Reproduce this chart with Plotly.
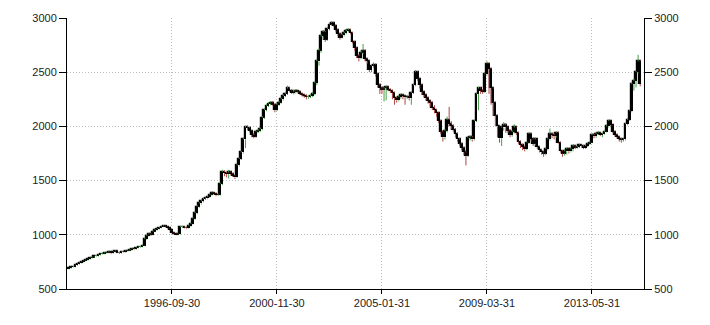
import pandas as pd
import plotly.graph_objects as go

# Monthly OHLC values, one row per calendar year (1992-08 .. 2015-04)
open_ = [
    685, 690, 700, 705, 720,
    730, 740, 750, 760, 765, 775, 785, 790, 800, 805, 815, 820,
    825, 830, 835, 840, 830, 845, 850, 835, 830, 845, 840, 850,
    855, 860, 870, 865, 880, 885, 890, 900, 960, 990, 1005, 1000,
    1030, 1045, 1055, 1065, 1075, 1080, 1075, 1060, 1040, 1020, 1010, 1000,
    1005, 1070, 1075, 1065, 1060, 1080, 1100, 1150, 1200, 1260, 1290, 1310,
    1330, 1335, 1350, 1370, 1390, 1380, 1365, 1370, 1470, 1580, 1570, 1560,
    1575, 1560, 1545, 1530, 1640, 1700, 1760, 1880, 1990, 1985, 1960, 1920,
    1905, 1950, 1960, 1975, 2080, 2150, 2190, 2210, 2220, 2200, 2150, 2200,
    2220, 2250, 2280, 2300, 2350, 2330, 2310, 2320, 2330, 2320, 2300, 2290,
    2280, 2270, 2275, 2280, 2300, 2400, 2600, 2700, 2830, 2870, 2800, 2900,
    2940, 2955, 2930, 2890, 2850, 2820, 2840, 2860, 2880, 2890, 2860, 2780,
    2720, 2650, 2630, 2680, 2700, 2620, 2600, 2520, 2560, 2570, 2480, 2380,
    2350, 2340, 2350, 2360, 2340, 2330, 2310, 2260, 2240, 2270, 2290, 2280,
    2270, 2275, 2260, 2310, 2380, 2500, 2440, 2380, 2320, 2290, 2260, 2230,
    2220, 2170, 2150, 2120, 2050, 1950, 1900, 1960, 2060, 2020, 2000, 1970,
    1930, 1880, 1840, 1800, 1760, 1730, 1890, 1900, 1880, 2050, 2300, 2350,
    2330, 2320, 2480, 2580, 2530, 2350, 2220, 2100, 2000, 1890, 1990, 2010,
    1990, 1960, 1920, 1950, 1990, 1940, 1860, 1830, 1810, 1790, 1850, 1930,
    1880, 1840, 1880, 1810, 1780, 1760, 1750, 1790, 1880, 1930, 1920, 1910,
    1940, 1850, 1770, 1750, 1770, 1790, 1770, 1790, 1815, 1805, 1810, 1825,
    1815, 1800, 1820, 1840, 1850, 1920, 1910, 1930, 1940, 1920, 1930, 1950,
    2000, 2050, 2010, 1950, 1920, 1900, 1880, 1875, 1880, 2020, 2060, 2140,
    2390, 2420, 2500, 2600,
]

high_ = [
    695, 705, 712, 725, 735,
    745, 755, 765, 772, 780, 790, 797, 805, 812, 820, 826, 832,
    838, 842, 848, 845, 852, 858, 855, 842, 852, 850, 858, 862,
    866, 876, 875, 886, 892, 896, 910, 970, 1000, 1015, 1012, 1040,
    1052, 1062, 1072, 1082, 1088, 1086, 1080, 1065, 1045, 1026, 1015, 1012,
    1080, 1085, 1080, 1072, 1088, 1110, 1160, 1212, 1272, 1300, 1320, 1342,
    1345, 1360, 1378, 1398, 1395, 1388, 1380, 1480, 1600, 1595, 1580, 1600,
    1585, 1570, 1550, 1650, 1712, 1775, 1895, 2005, 2010, 1995, 1965, 1935,
    1962, 1975, 1990, 2095, 2165, 2205, 2225, 2235, 2235, 2210, 2212, 2235,
    2265, 2295, 2320, 2375, 2365, 2345, 2340, 2345, 2338, 2330, 2310, 2300,
    2295, 2290, 2295, 2315, 2415, 2615, 2720, 2850, 2890, 2880, 2920, 2960,
    2970, 2965, 2940, 2900, 2862, 2855, 2875, 2895, 2905, 2900, 2870, 2790,
    2730, 2665, 2700, 2760, 2710, 2630, 2610, 2570, 2590, 2580, 2490, 2395,
    2365, 2362, 2372, 2370, 2350, 2340, 2320, 2270, 2285, 2300, 2298, 2290,
    2290, 2285, 2320, 2395, 2520, 2510, 2450, 2390, 2330, 2300, 2270, 2240,
    2230, 2195, 2160, 2130, 2060, 1965, 1975, 2090, 2180, 2050, 2015, 1985,
    1945, 1895, 1850, 1810, 1770, 1900, 1915, 1910, 2060, 2310, 2365, 2360,
    2345, 2490, 2600, 2590, 2540, 2360, 2230, 2110, 2010, 2000, 2040, 2030,
    2000, 1975, 1965, 2020, 2000, 1950, 1870, 1840, 1820, 1860, 1945, 1940,
    1890, 1895, 1885, 1820, 1790, 1770, 1800, 1890, 1980, 1945, 1935, 1950,
    1950, 1860, 1780, 1785, 1805, 1795, 1800, 1830, 1825, 1822, 1835, 1832,
    1830, 1830, 1850, 1860, 1930, 1935, 1945, 1955, 1945, 1940, 1960, 2010,
    2060, 2055, 2015, 1960, 1930, 1910, 1895, 1890, 2030, 2075, 2150, 2400,
    2440, 2510, 2660, 2610,
]

low_ = [
    680, 685, 695, 700, 715,
    725, 735, 745, 755, 760, 770, 780, 785, 795, 800, 810, 815,
    820, 825, 830, 822, 825, 840, 830, 822, 825, 835, 835, 845,
    850, 855, 858, 860, 875, 880, 885, 895, 955, 985, 990, 995,
    1025, 1040, 1050, 1060, 1070, 1070, 1055, 1035, 1015, 1005, 995, 995,
    1000, 1062, 1060, 1052, 1055, 1075, 1095, 1140, 1190, 1250, 1280, 1300,
    1322, 1328, 1342, 1362, 1372, 1355, 1358, 1362, 1460, 1540, 1530, 1520,
    1550, 1535, 1515, 1525, 1630, 1690, 1750, 1800, 1965, 1945, 1900, 1890,
    1895, 1938, 1948, 1965, 2070, 2140, 2180, 2195, 2190, 2130, 2140, 2190,
    2210, 2240, 2270, 2290, 2320, 2300, 2295, 2305, 2310, 2290, 2275, 2265,
    2250, 2255, 2262, 2270, 2290, 2380, 2560, 2680, 2800, 2780, 2790, 2885,
    2930, 2920, 2875, 2835, 2800, 2810, 2830, 2850, 2870, 2850, 2765, 2700,
    2630, 2600, 2620, 2670, 2600, 2580, 2500, 2500, 2540, 2460, 2360, 2300,
    2300, 2230, 2240, 2325, 2310, 2250, 2200, 2220, 2230, 2255, 2250, 2200,
    2255, 2240, 2200, 2300, 2370, 2420, 2350, 2290, 2270, 2240, 2210, 2180,
    2150, 2120, 2090, 2030, 1930, 1860, 1880, 1945, 2000, 1975, 1950, 1900,
    1860, 1820, 1780, 1740, 1640, 1720, 1870, 1860, 1870, 2040, 2150, 2300,
    2300, 2310, 2470, 2300, 2200, 2100, 2000, 1900, 1850, 1820, 1960, 1940,
    1940, 1900, 1905, 1935, 1920, 1840, 1800, 1780, 1770, 1780, 1840, 1860,
    1820, 1825, 1790, 1760, 1740, 1720, 1735, 1780, 1870, 1890, 1880, 1895,
    1840, 1760, 1720, 1730, 1740, 1750, 1760, 1770, 1790, 1795, 1800, 1805,
    1790, 1792, 1810, 1830, 1845, 1890, 1895, 1920, 1910, 1900, 1925, 1945,
    1990, 2000, 1940, 1910, 1890, 1860, 1850, 1860, 1870, 2010, 2050, 2130,
    2330, 2360, 2490, 2370,
]

close_ = [
    690, 700, 705, 720, 730,
    740, 750, 760, 765, 775, 785, 790, 800, 805, 815, 820, 825,
    830, 835, 840, 830, 845, 850, 835, 830, 845, 840, 850, 855,
    860, 870, 865, 880, 885, 890, 900, 960, 990, 1005, 1000, 1030,
    1045, 1055, 1065, 1075, 1080, 1075, 1060, 1040, 1020, 1010, 1000, 1005,
    1070, 1075, 1065, 1060, 1080, 1100, 1150, 1200, 1260, 1290, 1310, 1330,
    1335, 1350, 1370, 1390, 1380, 1365, 1370, 1470, 1580, 1570, 1560, 1575,
    1560, 1545, 1530, 1640, 1700, 1760, 1880, 1990, 1985, 1960, 1920, 1905,
    1950, 1960, 1975, 2080, 2150, 2190, 2210, 2220, 2200, 2150, 2200, 2220,
    2250, 2280, 2300, 2350, 2330, 2310, 2320, 2330, 2320, 2300, 2290, 2280,
    2270, 2275, 2280, 2300, 2400, 2600, 2700, 2830, 2870, 2800, 2900, 2940,
    2955, 2930, 2890, 2850, 2820, 2840, 2860, 2880, 2890, 2860, 2780, 2720,
    2650, 2630, 2680, 2700, 2620, 2600, 2520, 2560, 2570, 2480, 2380, 2350,
    2340, 2350, 2360, 2340, 2330, 2310, 2260, 2240, 2270, 2290, 2280, 2270,
    2275, 2260, 2310, 2380, 2500, 2440, 2380, 2320, 2290, 2260, 2230, 2220,
    2170, 2150, 2120, 2050, 1950, 1900, 1960, 2060, 2020, 2000, 1970, 1930,
    1880, 1840, 1800, 1760, 1730, 1890, 1900, 1880, 2050, 2300, 2350, 2330,
    2320, 2480, 2580, 2530, 2350, 2220, 2100, 2000, 1890, 1990, 2010, 1990,
    1960, 1920, 1950, 1990, 1940, 1860, 1830, 1810, 1790, 1850, 1930, 1880,
    1840, 1880, 1810, 1780, 1760, 1750, 1790, 1880, 1930, 1920, 1910, 1940,
    1850, 1770, 1750, 1770, 1790, 1770, 1790, 1815, 1805, 1810, 1825, 1815,
    1800, 1820, 1840, 1850, 1920, 1910, 1930, 1940, 1920, 1930, 1950, 2000,
    2050, 2010, 1950, 1920, 1900, 1880, 1875, 1880, 2020, 2060, 2140, 2390,
    2420, 2500, 2600, 2390,
]

first_month = "1992-08-01"
x_tick_labels = ["1996-09-30", "2000-11-30", "2005-01-31", "2009-03-31", "2013-05-31"]
y_tick_values = [500, 1000, 1500, 2000, 2500, 3000]

N = len(close_)
assert len(open_) == N and len(high_) == N and len(low_) == N, (len(open_), len(high_), len(low_), N)

dates = (pd.date_range(first_month, periods=N, freq="MS") + pd.offsets.MonthEnd(0)).strftime("%Y-%m-%d").tolist()
xs = list(range(1, N + 1))
x_tick_vals = [dates.index(d) + 1 for d in x_tick_labels]

# wick parts that stick out of the candle body, coloured by direction
up_x, up_y, dn_x, dn_y = [], [], [], []
for x, o, h, l, c in zip(xs, open_, high_, low_, close_):
    top, bot = max(o, c), min(o, c)
    seg_x, seg_y = [], []
    if h > top:
        seg_x += [x, x, None]
        seg_y += [top, h, None]
    if l < bot:
        seg_x += [x, x, None]
        seg_y += [l, bot, None]
    if c >= o:
        up_x += seg_x
        up_y += seg_y
    else:
        dn_x += seg_x
        dn_y += seg_y

body_base = [min(o, c) for o, c in zip(open_, close_)]
body_len = [max(abs(c - o), 1) for o, c in zip(open_, close_)]

fig = go.Figure()
fig.add_trace(go.Bar(x=xs, y=body_len, base=body_base, width=0.85,
                     marker=dict(color="black", line=dict(color="black", width=1.2)),
                     hoverinfo="skip", showlegend=False))
fig.add_trace(go.Scatter(x=up_x, y=up_y, mode="lines", line=dict(color="#4a9e4a", width=1),
                         hoverinfo="skip", showlegend=False))
fig.add_trace(go.Scatter(x=dn_x, y=dn_y, mode="lines", line=dict(color="#b04545", width=1),
                         hoverinfo="skip", showlegend=False))
# anchor trace for the right-hand axis
fig.add_trace(go.Scatter(x=[xs[0]], y=[close_[0]], yaxis="y2", mode="markers",
                         marker=dict(opacity=0), hoverinfo="skip", showlegend=False))

tick_font = dict(family="Liberation Sans, Arial, sans-serif", size=11, color="#222222")
grid_col = "#bdbdbd"
grid_dash = "1px,2px"

fig.update_layout(
    width=710, height=325,
    margin=dict(l=67, r=66, t=18, b=36),
    paper_bgcolor="white", plot_bgcolor="white",
    showlegend=False, bargap=0,
    xaxis=dict(range=[0, 274.8], tickmode="array", tickvals=x_tick_vals, ticktext=x_tick_labels,
               showline=True, linecolor="black", linewidth=1, ticks="outside", ticklen=4,
               tickcolor="black", showgrid=True, gridcolor=grid_col, griddash=grid_dash, gridwidth=1,
               zeroline=False, tickfont=tick_font, fixedrange=True),
    yaxis=dict(range=[500, 3000], tickmode="array", tickvals=y_tick_values,
               showline=True, linecolor="black", linewidth=1, ticks="outside", ticklen=7,
               tickcolor="black", showgrid=True, gridcolor=grid_col, griddash=grid_dash, gridwidth=1,
               zeroline=False, tickfont=tick_font, fixedrange=True),
    yaxis2=dict(range=[500, 3000], overlaying="y", side="right", tickmode="array",
                tickvals=y_tick_values, showline=True, linecolor="black", linewidth=1,
                ticks="outside", ticklen=7, tickcolor="black", showgrid=False,
                zeroline=False, tickfont=tick_font, fixedrange=True),
)

fig.write_html("out.html")
